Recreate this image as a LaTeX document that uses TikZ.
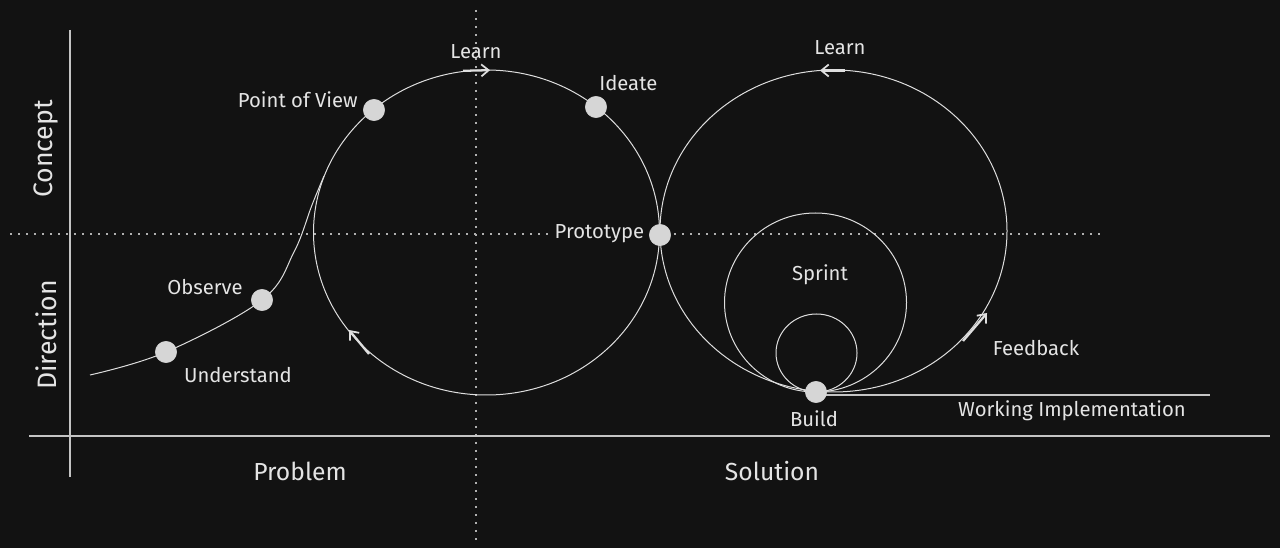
\documentclass[tikz,border=0pt]{standalone}
\usepackage{fontspec}
\setmainfont{Fira Sans}
\usetikzlibrary{arrows.meta}
\definecolor{bgc}{HTML}{121212}
\definecolor{linec}{HTML}{DEDEDE}
\definecolor{axisc}{HTML}{C4C4C4}
\definecolor{dotlc}{HTML}{B0B0B0}
\definecolor{dotc}{HTML}{D6D6D6}
\definecolor{txtc}{HTML}{E4E4E4}
\tikzset{
  curve/.style={draw=linec, line width=0.75pt},
  axisline/.style={draw=axisc, line width=0.95pt},
  guide/.style={draw=dotlc, line width=1.1pt, dash pattern=on 1.2pt off 4.8pt},
  dot/.style={circle, fill=dotc, draw=dotc, minimum size=16pt, inner sep=0pt},
  lbl/.style={text=txtc, inner sep=0pt, font=\fontsize{15.2}{18}\selectfont},
  biglbl/.style={text=txtc, inner sep=0pt, font=\fontsize{18.5}{21}\selectfont},
  axlbl/.style={text=txtc, inner sep=0pt, font=\fontsize{20}{22}\selectfont, rotate=90},
  flowarrow/.style={draw=linec, line width=1.7pt, -{Straight Barb[length=5.5pt, width=9pt, line width=1.3pt]}}
}
\begin{document}
\begin{tikzpicture}[x=0.75pt, y=-0.75pt]
\fill[bgc] (0,0) rectangle (1280,548);
\useasboundingbox (0,0) rectangle (1280,548);

% guides
\coordinate (gh1) at (10,234);
\coordinate (gh2) at (1103,234);
\coordinate (gv1) at (476,10);
\coordinate (gv2) at (476,540);
\draw[guide] (gh1) -- (gh2);
\draw[guide] (gv1) -- (gv2);

% axes
\coordinate (ay1) at (70,30);
\coordinate (ay2) at (70,477);
\coordinate (ax1) at (29,436);
\coordinate (ax2) at (1270,436);
\draw[axisline] (ay1) -- (ay2);
\draw[axisline] (ax1) -- (ax2);

% circles
\draw[curve] (486.5,232.5) ellipse [x radius=173, y radius=162.5];
\draw[curve] (833.5,231) ellipse [x radius=173.5, y radius=161];
\draw[curve] (815.5,302.5) ellipse [x radius=91, y radius=89.5];
\draw[curve] (816.5,353) ellipse [x radius=40.5, y radius=39];

% S curve
\draw[curve] plot[smooth, tension=0.6] coordinates {(90,375) (166,352) (262,300) (294,252) (312,205) (324,176)};

% working implementation line
\coordinate (wend) at (1210,395);
\draw[axisline] (816,395) -- (wend);

% flow arrows
\coordinate (a1s) at (463,70.8); \coordinate (a1e) at (490,70.2);
\coordinate (a2s) at (369,354); \coordinate (a2e) at (349,330);
\coordinate (a3s) at (845,70.5); \coordinate (a3e) at (820,70.5);
\coordinate (a4s) at (963,341); \coordinate (a4e) at (987,313);
\draw[flowarrow] (a1s) -- (a1e);
\draw[flowarrow] (a2s) -- (a2e);
\draw[flowarrow] (a3s) -- (a3e);
\draw[flowarrow] (a4s) -- (a4e);

% dots
\node[dot] (pov) at (374,110) {};
\node[dot] (ideate) at (596,107) {};
\node[dot] (proto) at (660,235) {};
\node[dot] (observe) at (262,300) {};
\node[dot] (underst) at (166,352) {};
\node[dot] (build) at (816,392) {};

% labels
\node[lbl, anchor=east] (tpov) at (358,100) {Point of View};
\node[lbl, anchor=west] (tideate) at (599,83) {Ideate};
\node[lbl] (tlearn1) at (476,52) {Learn};
\node[lbl] (tlearn2) at (840,48) {Learn};
\node[lbl, anchor=east, fill=bgc, inner sep=1.5pt] (tproto) at (646.5,234) {Prototype};
\node[lbl] (tobs) at (205,287) {Observe};
\node[lbl] (tund) at (238,375) {Understand};
\node[lbl] (tsprint) at (820,275) {Sprint};
\node[lbl] (tfeed) at (1036,348) {Feedback};
\node[lbl] (tbuild) at (814,419) {Build};
\node[lbl] (twork) at (1072,411) {Working Implementation};
\node[biglbl] (tprob) at (300,471) {Problem};
\node[biglbl] (tsol) at (772,471) {Solution};
\node[axlbl] (tconc) at (46,149) {Concept};
\node[axlbl] (tdir) at (46,335) {Direction};
\end{tikzpicture}
\end{document}
